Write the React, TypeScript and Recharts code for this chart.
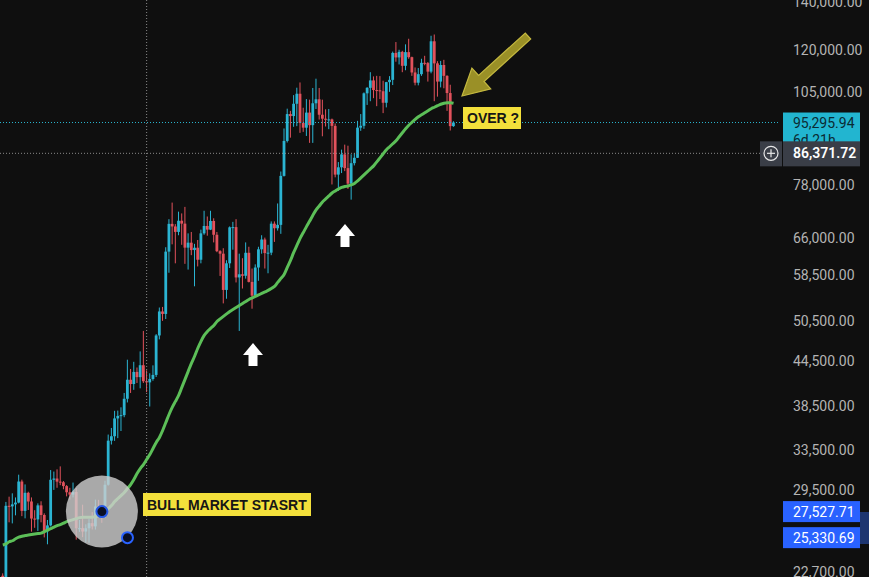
import React from 'react'
import { Bar, ComposedChart, Line, ReferenceDot, ReferenceLine, XAxis, YAxis } from 'recharts'

// weekly candles, BTC/USD
const weeks = [
  '2023-03-06', '2023-03-13', '2023-03-20', '2023-03-27', '2023-04-03', '2023-04-10', '2023-04-17', '2023-04-24', '2023-05-01', '2023-05-08',
  '2023-05-15', '2023-05-22', '2023-05-29', '2023-06-05', '2023-06-12', '2023-06-19', '2023-06-26', '2023-07-03', '2023-07-10', '2023-07-17',
  '2023-07-24', '2023-07-31', '2023-08-07', '2023-08-14', '2023-08-21', '2023-08-28', '2023-09-04', '2023-09-11', '2023-09-18', '2023-09-25',
  '2023-10-02', '2023-10-09', '2023-10-16', '2023-10-23', '2023-10-30', '2023-11-06', '2023-11-13', '2023-11-20', '2023-11-27', '2023-12-04',
  '2023-12-11', '2023-12-18', '2023-12-25', '2024-01-01', '2024-01-08', '2024-01-15', '2024-01-22', '2024-01-29', '2024-02-05', '2024-02-12',
  '2024-02-19', '2024-02-26', '2024-03-04', '2024-03-11', '2024-03-18', '2024-03-25', '2024-04-01', '2024-04-08', '2024-04-15', '2024-04-22',
  '2024-04-29', '2024-05-06', '2024-05-13', '2024-05-20', '2024-05-27', '2024-06-03', '2024-06-10', '2024-06-17', '2024-06-24', '2024-07-01',
  '2024-07-08', '2024-07-15', '2024-07-22', '2024-07-29', '2024-08-05', '2024-08-12', '2024-08-19', '2024-08-26', '2024-09-02', '2024-09-09',
  '2024-09-16', '2024-09-23', '2024-09-30', '2024-10-07', '2024-10-14', '2024-10-21', '2024-10-28', '2024-11-04', '2024-11-11', '2024-11-18',
  '2024-11-25', '2024-12-02', '2024-12-09', '2024-12-16', '2024-12-23', '2024-12-30', '2025-01-06', '2025-01-13', '2025-01-20', '2025-01-27',
  '2025-02-03', '2025-02-10', '2025-02-17', '2025-02-24', '2025-03-03', '2025-03-10', '2025-03-17', '2025-03-24', '2025-03-31', '2025-04-07',
  '2025-04-14', '2025-04-21', '2025-04-28', '2025-05-05', '2025-05-12', '2025-05-19', '2025-05-26', '2025-06-02', '2025-06-09', '2025-06-16',
  '2025-06-23', '2025-06-30', '2025-07-07', '2025-07-14', '2025-07-21', '2025-07-28', '2025-08-04', '2025-08-11', '2025-08-18', '2025-08-25',
  '2025-09-01', '2025-09-08', '2025-09-15', '2025-09-22', '2025-09-29', '2025-10-06', '2025-10-13', '2025-10-20', '2025-10-27', '2025-11-03',
  '2025-11-10', '2025-11-17'
]

const open = [
  22430, 20630, 28040, 27990, 28170, 28330, 30300, 27590, 29230, 28430,
  26920, 26850, 28080, 27230, 25850, 26340, 30470, 30590, 30290, 30230,
  29860, 29280, 29060, 29300, 26100, 26110, 25830, 26100, 26530, 26260,
  27980, 27920, 27160, 29990, 34520, 35010, 37060, 37360, 37450, 39460,
  41930, 41360, 42990, 42280, 43920, 41730, 41580, 42030, 42580, 48300,
  52140, 51730, 63110, 68960, 68390, 67210, 69650, 69010, 63920, 64940,
  63430, 63900, 61500, 66900, 68500, 67700, 69600, 66600, 63200, 62700,
  55850, 60800, 68200, 68250, 58120, 58710, 58430, 62880, 57300, 54840,
  59990, 63580, 65600, 62820, 62900, 69000, 68000, 68740, 80370, 89850,
  97900, 97280, 101170, 104460, 95190, 93740, 98360, 94500, 101330, 102620,
  97690, 96460, 96140, 96250, 94270, 80700, 82600, 86080, 82390, 78400,
  83700, 85150, 93750, 94300, 104600, 106450, 109000, 105700, 105600, 105300,
  101500, 108400, 109200, 119000, 117300, 119400, 114200, 119300, 117400, 111800,
  108200, 111200, 115300, 115200, 112100, 123500, 115100, 108600, 114500, 110600,
  104700, 94200
]

const high = [
  22600, 28390, 28870, 29180, 28800, 30970, 30480, 30020, 29330, 28800,
  27650, 28260, 28450, 27370, 26800, 31430, 31280, 31500, 31800, 30350,
  29960, 29700, 30200, 29680, 26800, 28140, 26430, 26880, 27480, 28600,
  28580, 28000, 30380, 35200, 35950, 37970, 38000, 38400, 40200, 44700,
  43400, 44400, 43600, 45900, 49000, 43200, 42800, 43900, 48500, 52800,
  52900, 64000, 70000, 73800, 68900, 71700, 71300, 72800, 66900, 67200,
  64700, 65500, 67700, 71900, 70600, 71900, 70200, 67200, 63400, 63800,
  61400, 68400, 69400, 70000, 62700, 61800, 65000, 64100, 59800, 60600,
  64100, 66500, 66000, 64500, 69500, 69500, 73600, 81500, 93500, 99600,
  98900, 104000, 106500, 108300, 99900, 102700, 102500, 106400, 109600, 106400,
  102500, 99400, 99500, 96500, 95000, 84000, 87400, 88800, 88500, 86100,
  86400, 95800, 97900, 104900, 106700, 111900, 110400, 110600, 110500, 108900,
  108500, 110500, 119500, 123200, 120200, 119800, 122300, 124500, 117600, 113600,
  113400, 116800, 117900, 115600, 125700, 126200, 115900, 116000, 116400, 110800,
  107500, 95700
]

const low = [
  19570, 20260, 26600, 26510, 27200, 28260, 27130, 26940, 27670, 25820,
  26140, 25880, 26600, 25350, 24800, 26250, 29500, 29700, 29950, 29560,
  28900, 28600, 28800, 25170, 25800, 25370, 24930, 24920, 26000, 25990,
  27200, 26560, 26960, 29900, 34100, 34500, 34800, 35600, 37200, 39000,
  40200, 40600, 41500, 40800, 41500, 40300, 38500, 41800, 42300, 47700,
  50600, 50900, 59000, 64600, 60800, 66500, 64500, 60700, 59600, 62400,
  56500, 60200, 60800, 66600, 66400, 67600, 65000, 63000, 58400, 53500,
  54300, 59900, 63500, 57200, 49000, 56100, 57900, 57200, 52600, 54600,
  57500, 62700, 59800, 58900, 62400, 65100, 67500, 66800, 80200, 89400,
  90800, 94000, 94200, 92200, 92500, 91300, 89300, 89300, 99500, 96200,
  91200, 94100, 93300, 78200, 80000, 76600, 81100, 81600, 77100, 74500,
  83100, 85100, 92800, 93400, 100800, 102000, 103000, 100400, 102700, 98200,
  100000, 105100, 107400, 115700, 114700, 111900, 112600, 116800, 110600, 107300,
  107300, 110600, 114400, 108600, 111500, 102000, 103500, 106600, 106300, 98900,
  92900, 94000
]

const close = [
  20630, 28040, 27990, 28170, 28330, 30300, 27590, 29230, 28430, 26920,
  26850, 28080, 27230, 25850, 26340, 30470, 30590, 30290, 30230, 29860,
  29280, 29060, 29300, 26100, 26110, 25830, 26100, 26530, 26260, 27980,
  27920, 27160, 29990, 34520, 35010, 37060, 37360, 37450, 39460, 41930,
  41360, 42990, 42280, 43920, 41730, 41580, 42030, 42580, 48300, 52140,
  51730, 63110, 68960, 68390, 67210, 69650, 69010, 63920, 64940, 63430,
  63900, 61500, 66900, 68500, 67700, 69600, 66600, 63200, 62700, 55850,
  60800, 68200, 68250, 58120, 58710, 58430, 62880, 57300, 54840, 59990,
  63580, 65600, 62820, 62900, 69000, 68000, 68740, 80370, 89850, 97900,
  97280, 101170, 104460, 95190, 93740, 98360, 94500, 101330, 102620, 97690,
  96460, 96140, 96250, 94270, 80700, 82600, 86080, 82390, 78400, 83700,
  85150, 93750, 94300, 104600, 106450, 109000, 105700, 105600, 105300, 101500,
  108400, 109200, 119000, 117300, 119400, 114200, 119300, 117400, 111800, 108200,
  111200, 115300, 115200, 112100, 123500, 115100, 108600, 114500, 110600, 104700,
  94200, 95296
]

// moving average (green line)
const ma = [
  24750, 24830, 25000, 25080, 25240, 25370, 25450, 25500, 25540, 25580,
  25620, 25660, 25700, 25820, 25950, 26070, 26200, 26320, 26410, 26530,
  26660, 26750, 26830, 26920, 27000, 27040, 27040, 27040, 27040, 27090,
  27170, 27350, 27520, 27790, 28060, 28420, 28700, 28970, 29250, 29630,
  30010, 30490, 31080, 31580, 31990, 32500, 33030, 33670, 34330, 34880,
  35660, 36580, 37530, 38380, 39130, 39890, 40920, 41980, 43070, 44190,
  45190, 46360, 47400, 48300, 48920, 49390, 49860, 50500, 50910, 51320,
  51730, 52140, 52470, 52810, 53150, 53490, 53830, 54180, 54440, 54700,
  54960, 55230, 55490, 55760, 56120, 56480, 57210, 57940, 58690, 60010,
  61360, 62950, 64390, 65850, 67080, 68350, 69590, 70880, 72090, 73010,
  73960, 74670, 75380, 76110, 76600, 77090, 77460, 77710, 77830, 78080,
  78460, 79090, 79850, 80620, 81400, 82180, 82980, 84050, 85140, 86240,
  87350, 88200, 89050, 89910, 91060, 92230, 93410, 94460, 95370, 96290,
  97060, 97680, 98310, 98940, 99580, 100060, 100540, 101020, 101350, 101510,
  101510, 101350
]

const yTicks = [22700, 29500, 33500, 38500, 44500, 50500, 58500, 66000, 78000, 105000, 120000, 140000]

const lastPrice = 95295.94
const crossPrice = 86371.72
const crossWeek = 45
const markA = { week: 31, price: 27527.71 }
const markB = { week: 39, price: 25330.69 }

const EMPTY_SLOTS = 101

const UP = '#2bb4d2'
const DOWN = '#e2525c'
const BG = '#0f0f0f'
const FONT = 'Roboto, "Noto Sans", sans-serif'

const rows: any[] = weeks.map((w, i) => ({
  i,
  week: w,
  o: open[i],
  h: high[i],
  l: low[i],
  c: close[i],
  ma: ma[i]
}))
for (let k = 0; k < EMPTY_SLOTS; k++) rows.push({ i: weeks.length + k })

const fmt = (v: number) => v.toLocaleString('en-US', { minimumFractionDigits: 2, maximumFractionDigits: 2 })

function Candle(props: any) {
  const { x, y, width, height, payload } = props
  if (!payload || payload.h == null) return null
  const top = Math.min(y, y + height)
  const h = Math.abs(height)
  const lh = Math.log(payload.h)
  const ll = Math.log(payload.l)
  const toY = (v: number) => top + (h * (lh - Math.log(v))) / (lh - ll || 1)
  const cx = x + width / 2
  const color = payload.c >= payload.o ? UP : DOWN
  const yo = toY(payload.o)
  const yc = toY(payload.c)
  const bt = Math.min(yo, yc)
  const bh = Math.max(1, Math.abs(yc - yo))
  return (
    <g>
      <line x1={cx} x2={cx} y1={top} y2={top + h} stroke={color} strokeWidth={1} />
      <rect x={cx - 1.4} y={bt} width={2.8} height={bh} fill={color} />
    </g>
  )
}

function PriceTick({ x, y, payload }: any) {
  return (
    <text x={x + 15} y={y} dy={5} fill="#b4b4b4" fontSize={14} fontFamily={FONT}>
      {fmt(payload.value)}
    </text>
  )
}

function LastTag({ viewBox }: any) {
  const x = viewBox.x + viewBox.width + 5
  const y = viewBox.y
  return (
    <g>
      <rect x={x} y={y - 10} width={77} height={32} fill="#22b5d0" />
      <text x={x + 10} y={y + 5} fill="#0b2a33" fontSize={14} fontFamily={FONT}>{fmt(lastPrice)}</text>
      <text x={x + 10} y={y + 22} fill="#0b2a33" fontSize={14} fontFamily={FONT}>6d 21h</text>
    </g>
  )
}

function CrossTag({ viewBox }: any) {
  const x = viewBox.x + viewBox.width + 5
  const y = viewBox.y
  return (
    <g>
      <rect x={x - 23} y={y - 12} width={22} height={25} fill="#3a3e47" />
      <circle cx={x - 12} cy={y} r={7} fill="none" stroke="#e8e8e8" strokeWidth={1.2} />
      <line x1={x - 16} x2={x - 8} y1={y} y2={y} stroke="#e8e8e8" strokeWidth={1.2} />
      <line x1={x - 12} x2={x - 12} y1={y - 4} y2={y + 4} stroke="#e8e8e8" strokeWidth={1.2} />
      <rect x={x} y={y - 12} width={77} height={25} fill="#3a3e47" />
      <text x={x + 10} y={y + 5} fill="#ffffff" fontSize={14} fontWeight={600} fontFamily={FONT}>{fmt(crossPrice)}</text>
    </g>
  )
}

function BlueTag({ viewBox, value }: any) {
  const x = viewBox.x + viewBox.width + 5
  const y = viewBox.y
  return (
    <g>
      <rect x={x} y={y - 10.5} width={77} height={21} fill="#2962ff" />
      <text x={x + 10} y={y + 5} fill="#ffffff" fontSize={14} fontFamily={FONT}>{fmt(value)}</text>
    </g>
  )
}

export default function App() {
  return (
    <div style={{ position: 'relative', width: 869, height: 577, background: BG, overflow: 'hidden' }}>
      <style>{`body{margin:0;background:${BG};}`}</style>
      <ComposedChart width={869} height={577} data={rows} margin={{ top: 0, right: 0, bottom: 0, left: 0 }} barCategoryGap={0}>
        <XAxis dataKey="i" type="category" hide padding={{ left: 1.2, right: 0 }} />
        <YAxis
          orientation="right"
          scale="log"
          domain={[22341, 140896]}
          allowDataOverflow
          ticks={yTicks}
          interval={0}
          width={91}
          axisLine={false}
          tickLine={false}
          tickSize={0}
          tickMargin={0}
          tick={<PriceTick />}
        />
        <ReferenceLine x={crossWeek} stroke="#8a8a8a" strokeDasharray="1 2" />
        <ReferenceLine y={lastPrice} stroke="#2bb5cf" strokeDasharray="1 2" label={(p: any) => <LastTag viewBox={p.viewBox} />} />
        <ReferenceLine y={crossPrice} stroke="#8a8a8a" strokeDasharray="1 2" label={(p: any) => <CrossTag viewBox={p.viewBox} />} />
        <Bar dataKey={(d: any) => (d.h == null ? null : [d.l, d.h])} shape={<Candle />} barSize={3} isAnimationActive={false} />
        <Line dataKey="ma" type="monotone" stroke="#5cbf58" strokeWidth={3} dot={false} activeDot={false} isAnimationActive={false} />
        <ReferenceDot x={markA.week} y={markA.price} r={36} fill="#d0d0d0" fillOpacity={0.8} stroke="none" />
        <ReferenceDot x={markA.week} y={markA.price} r={5.5} fill="#0a0f24" stroke="#2457e6" strokeWidth={2} />
        <ReferenceDot x={markB.week} y={markB.price} r={5.5} fill="#0a0f24" stroke="#2962ff" strokeWidth={2} />
        <ReferenceLine y={markA.price} stroke="none" label={(p: any) => <BlueTag viewBox={p.viewBox} value={markA.price} />} />
        <ReferenceLine y={markB.price} stroke="none" label={(p: any) => <BlueTag viewBox={p.viewBox} value={markB.price} />} />
      </ComposedChart>
      <svg width={869} height={577} style={{ position: 'absolute', left: 0, top: 0, pointerEvents: 'none' }}>
        <polygon
          points="462,96 490.7,88.9 484,81.5 530.7,39 525.3,33 478.6,75.5 471.9,68.1"
          fill="#9a9027"
          stroke="#c4b83f"
          strokeWidth={1.2}
        />
        <polygon points="345,224 355,236 349.5,236 349.5,247 340.5,247 340.5,236 335,236" fill="#ffffff" />
        <polygon points="253,343 263,355 257.5,355 257.5,366 248.5,366 248.5,355 243,355" fill="#ffffff" />
        <rect x={143} y={493} width={168} height={23} fill="#f3e03b" />
        <text x={147} y={510} fill="#161616" fontSize={14} fontWeight={700} fontFamily="'Liberation Sans', Arial, sans-serif">BULL MARKET STASRT</text>
        <rect x={463} y={107} width={58} height={22} fill="#f3e03b" />
        <text x={467} y={123} fill="#161616" fontSize={14} fontWeight={700} fontFamily="'Liberation Sans', Arial, sans-serif">OVER ?</text>
        <rect x={860} y={512} width={9} height={32} fill="#1d3570" />
      </svg>
    </div>
  )
}
